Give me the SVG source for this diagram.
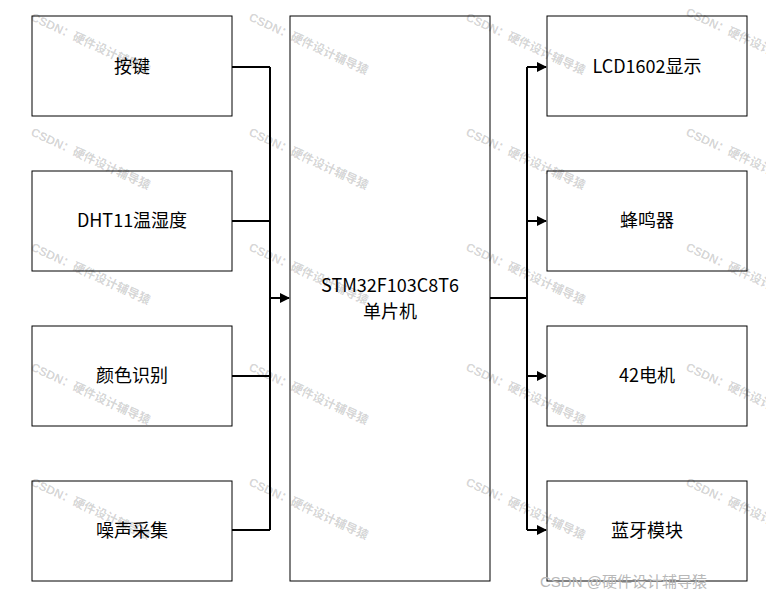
<svg xmlns="http://www.w3.org/2000/svg" width="766" height="600" viewBox="0 0 766 600">
<defs>
<style>
.box{fill:#fff;stroke:#000;stroke-width:1}
.t{font-family:"Noto Sans CJK SC","Liberation Sans",sans-serif;font-size:18px;text-anchor:middle;fill:#000}
.w{font-family:"Liberation Sans","Noto Sans CJK SC",sans-serif;font-size:12px;font-weight:bold;fill:#000;fill-opacity:0.18}
.c{fill:none;stroke:#000;stroke-width:2}
</style>
<marker id="a" markerWidth="10" markerHeight="10" refX="9" refY="5" orient="auto" markerUnits="userSpaceOnUse"><path d="M0,0 L10,5 L0,10 z" fill="#000"/></marker>
</defs>
<rect width="766" height="600" fill="#fff"/>
<g id="connectors">
<path class="c" d="M232,67 H270 M232,221 H270 M232,376 H270 M232,530 H270 M270,67 V530"/>
<path class="c" d="M270,298 H289" marker-end="url(#a)"/>
<path class="c" d="M490,298 H527 M527,67 V530"/>
<path class="c" d="M527,67 H546" marker-end="url(#a)"/>
<path class="c" d="M527,221 H546" marker-end="url(#a)"/>
<path class="c" d="M527,376 H546" marker-end="url(#a)"/>
<path class="c" d="M527,530 H546" marker-end="url(#a)"/>
</g>
<g id="n1"><rect class="box" x="32" y="16" width="200" height="100"/><text class="t" x="132" y="73">按键</text></g>
<g id="n2"><rect class="box" x="32" y="171" width="200" height="100"/><text class="t" x="132" y="227">DHT11温湿度</text></g>
<g id="n3"><rect class="box" x="32" y="326" width="200" height="100"/><text class="t" x="132" y="382">颜色识别</text></g>
<g id="n4"><rect class="box" x="32" y="481" width="200" height="100"/><text class="t" x="132" y="537">噪声采集</text></g>
<g id="mcu"><rect class="box" x="290" y="16" width="200" height="565"/><text class="t" x="390" y="292">STM32F103C8T6</text><text class="t" x="390" y="318">单片机</text></g>
<g id="r1"><rect class="box" x="547" y="16" width="200" height="100"/><text class="t" x="647" y="73">LCD1602显示</text></g>
<g id="r2"><rect class="box" x="547" y="171" width="200" height="100"/><text class="t" x="647" y="227">蜂鸣器</text></g>
<g id="r3"><rect class="box" x="547" y="326" width="200" height="100"/><text class="t" x="647" y="382">42电机</text></g>
<g id="r4"><rect class="box" x="547" y="481" width="200" height="100"/><text class="t" x="647" y="537">蓝牙模块</text></g>
<g id="wm">
<text class="w" transform="translate(30,20) rotate(25)">CSDN：硬件设计辅导猿</text>
<text class="w" transform="translate(248,20) rotate(25)">CSDN：硬件设计辅导猿</text>
<text class="w" transform="translate(465,20) rotate(25)">CSDN：硬件设计辅导猿</text>
<text class="w" transform="translate(685,15) rotate(25)">CSDN：硬件设计辅导猿</text>
<text class="w" transform="translate(30,135) rotate(25)">CSDN：硬件设计辅导猿</text>
<text class="w" transform="translate(248,135) rotate(25)">CSDN：硬件设计辅导猿</text>
<text class="w" transform="translate(465,135) rotate(25)">CSDN：硬件设计辅导猿</text>
<text class="w" transform="translate(685,135) rotate(25)">CSDN：硬件设计辅导猿</text>
<text class="w" transform="translate(30,250) rotate(25)">CSDN：硬件设计辅导猿</text>
<text class="w" transform="translate(248,250) rotate(25)">CSDN：硬件设计辅导猿</text>
<text class="w" transform="translate(465,250) rotate(25)">CSDN：硬件设计辅导猿</text>
<text class="w" transform="translate(685,250) rotate(25)">CSDN：硬件设计辅导猿</text>
<text class="w" transform="translate(30,370) rotate(25)">CSDN：硬件设计辅导猿</text>
<text class="w" transform="translate(248,370) rotate(25)">CSDN：硬件设计辅导猿</text>
<text class="w" transform="translate(465,370) rotate(25)">CSDN：硬件设计辅导猿</text>
<text class="w" transform="translate(685,370) rotate(25)">CSDN：硬件设计辅导猿</text>
<text class="w" transform="translate(30,485) rotate(25)">CSDN：硬件设计辅导猿</text>
<text class="w" transform="translate(248,485) rotate(25)">CSDN：硬件设计辅导猿</text>
<text class="w" transform="translate(465,485) rotate(25)">CSDN：硬件设计辅导猿</text>
<text class="w" transform="translate(685,485) rotate(25)">CSDN：硬件设计辅导猿</text>
</g>
<text x="540" y="587" font-family="Liberation Sans,'Noto Sans CJK SC',sans-serif" font-size="15" fill="#b8b8b8">CSDN @硬件设计辅导猿</text>
</svg>
